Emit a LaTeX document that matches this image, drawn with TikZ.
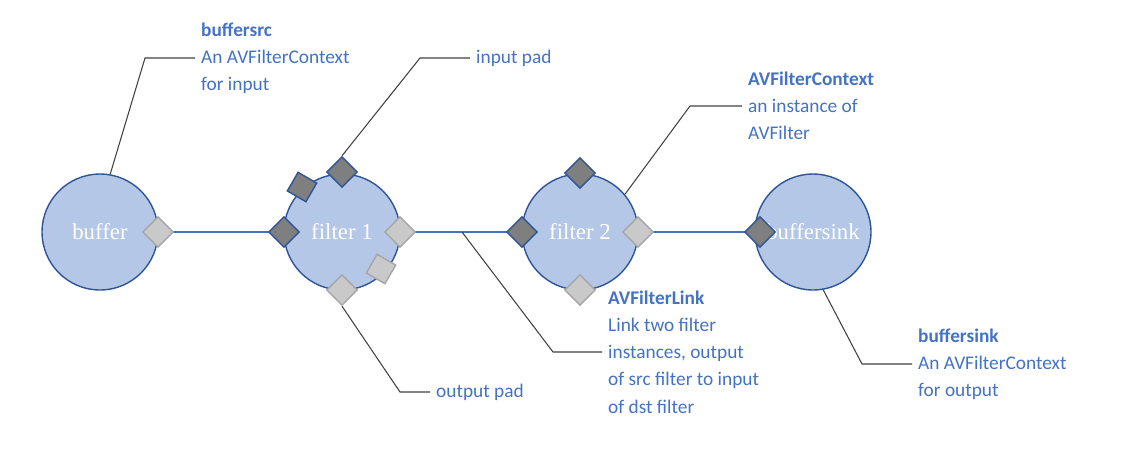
\documentclass[tikz,border=0pt]{standalone}
\usepackage{fontspec}
\setmainfont{Carlito}
\newfontfamily\circfont{Liberation Serif}
\usetikzlibrary{shapes.geometric}
\definecolor{padblue}{HTML}{4472C4}
\definecolor{fillblue}{HTML}{B4C7E7}
\definecolor{edgeblue}{HTML}{2F5597}
\definecolor{darkpad}{HTML}{7F7F7F}
\definecolor{lightpad}{HTML}{C9C9C9}
\tikzset{
  filt/.style={circle, draw=edgeblue, thick, fill=fillblue, minimum size=2.32cm,
    text=white, font=\circfont\fontsize{13}{13}\selectfont},
  inpad/.style={diamond, draw=edgeblue, thick, fill=darkpad, inner sep=0pt, minimum size=0.62cm},
  outpad/.style={diamond, draw=gray!70, thick, fill=lightpad, inner sep=0pt, minimum size=0.62cm},
  note/.style={anchor=west, align=left, text=padblue, font=\fontsize{11}{15.5}\selectfont},
  lead/.style={draw=black!75, semithick}
}
\begin{document}
\begin{tikzpicture}[x=0.02cm, y=-0.02cm]
\useasboundingbox (0,0) rectangle (1126,451);

% links
\draw[padblue, thick] (100,232) -- (813,232);

% filters
\node[filt] (buffer) at (100,232) {buffer};
\node[filt] (filterA) at (342,232) {filter 1};
\node[filt] (filterB) at (580,232) {filter 2};
\node[filt] (sink) at (813,232) {buffersink};

% pads
\node[outpad] (bufOut) at (158,232) {};
\node[inpad] (aIn) at (284,232) {};
\node[outpad] (aOut) at (400,232) {};
\node[inpad] (aTop) at (342,172) {};
\node[inpad, rotate=15] (aTopL) at (302,187) {};
\node[outpad] (aBot) at (342,290) {};
\node[outpad, rotate=15] (aBotR) at (381,269) {};
\node[inpad] (bIn) at (522,232) {};
\node[outpad] (bOut) at (638,232) {};
\node[inpad] (bTop) at (580,173) {};
\node[outpad] (bBot) at (580,290) {};
\node[inpad] (sinkIn) at (760,232) {};

% notes
\node[note] (srcNote) at (195,58) {\textbf{buffersrc}\\An AVFilterContext\\for input};
\node[note] (inNote) at (470,58) {input pad};
\node[note] (ctxNote) at (742,106) {\textbf{AVFilterContext}\\an instance of\\AVFilter};
\node[note] (linkNote) at (602,352) {\textbf{AVFilterLink}\\Link two filter\\instances, output\\of src filter to input\\of dst filter};
\node[note] (outNote) at (430,392) {output pad};
\node[note] (sinkNote) at (912,364) {\textbf{buffersink}\\An AVFilterContext\\for output};

% leaders
\coordinate (linkPt) at (462,232);
\draw[lead] (buffer.80) -- (145,58) -- (srcNote.west |- 0,58);
\draw[lead] (aTop.north) -- (420,58) -- (inNote.west);
\draw[lead] (filterB.40) -- (690,106) -- (ctxNote.west |- 0,106);
\draw[lead] (linkPt) -- (553,352) -- (linkNote.west |- 0,352);
\draw[lead] (aBot.south) -- (400,392) -- (outNote.west);
\draw[lead] (sink.280) -- (862,364) -- (sinkNote.west |- 0,364);
\end{tikzpicture}
\end{document}
